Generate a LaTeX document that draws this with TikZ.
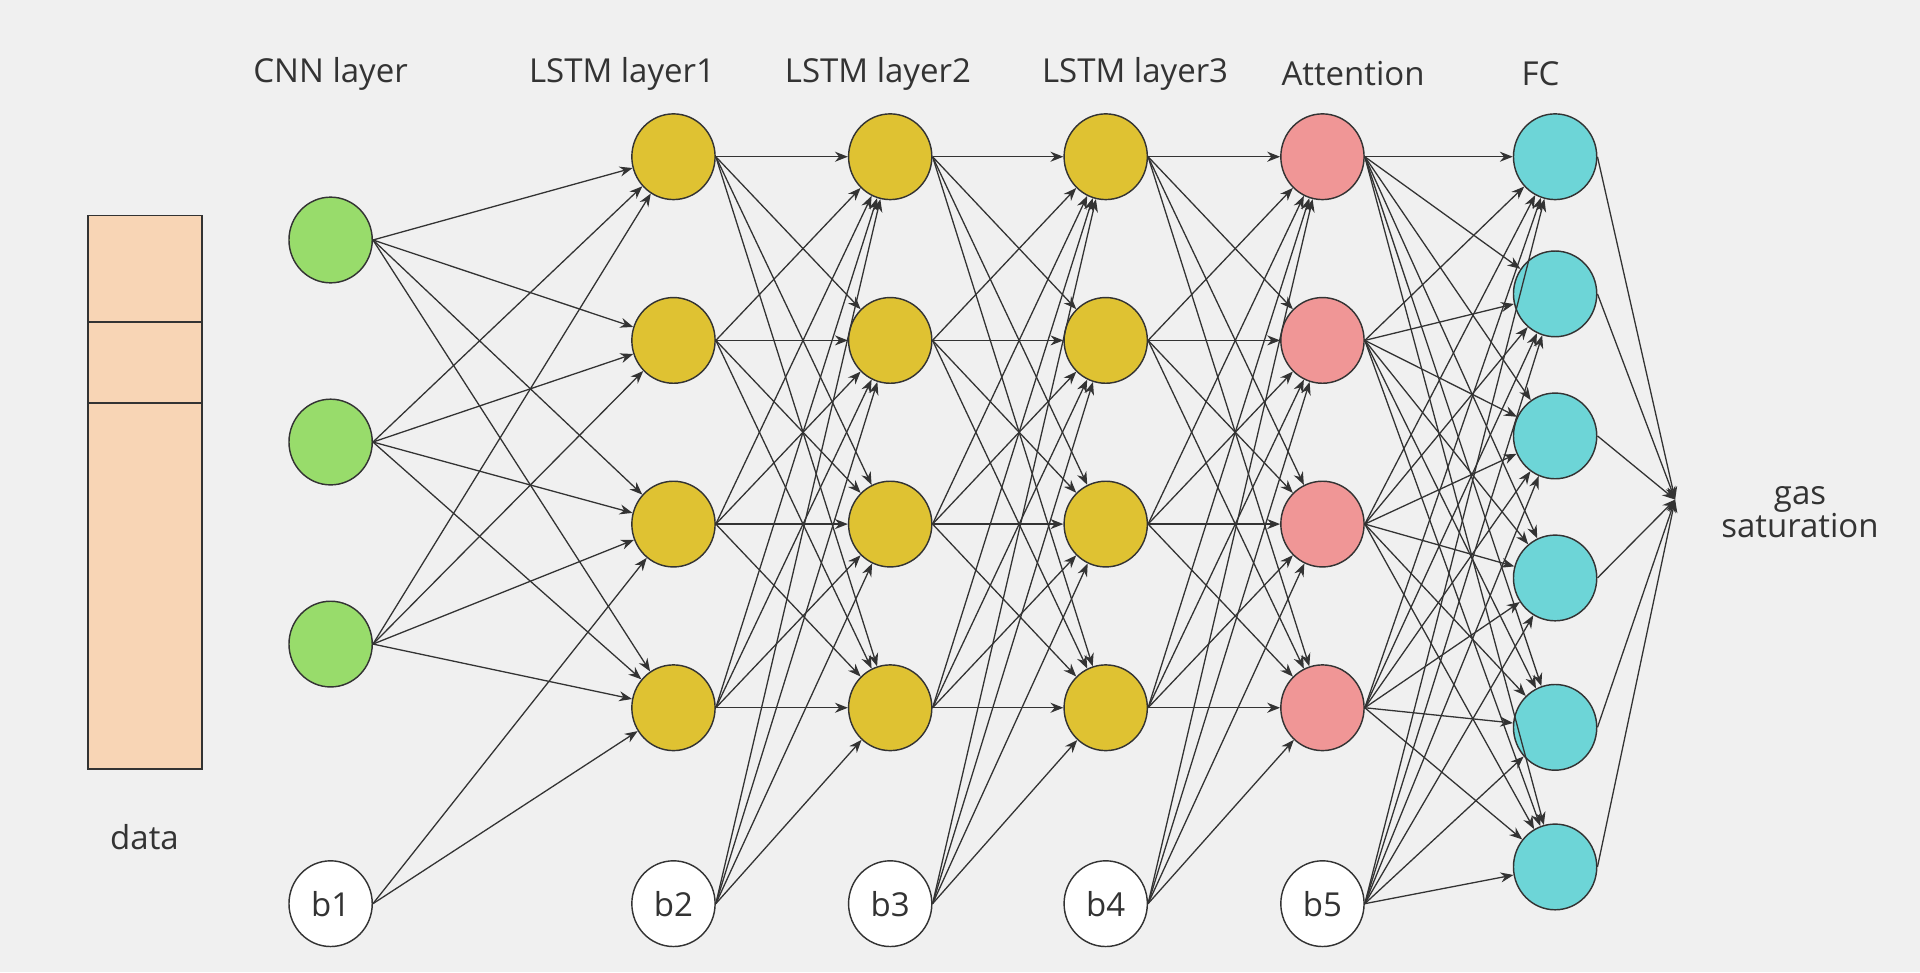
\documentclass[tikz,border=0pt]{standalone}
\usepackage{fontspec}
\setmainfont{Open Sans}
\usetikzlibrary{shapes.geometric,arrows.meta}
\definecolor{bg}{HTML}{F0F0F0}
\definecolor{cg}{HTML}{98DC6B}
\definecolor{cy}{HTML}{DFC232}
\definecolor{cp}{HTML}{F09696}
\definecolor{cc}{HTML}{6DD5D7}
\definecolor{cd}{HTML}{F8D5B5}
\definecolor{ln}{HTML}{333333}
\begin{document}
\begin{tikzpicture}[x=0.03cm,y=-0.03cm,
 neu/.style={ellipse,draw=ln,line width=1pt,minimum width=2.04cm,minimum height=2.1cm,inner sep=0pt},
 lab/.style={font=\fontsize{23}{27}\selectfont,text=ln},
 con/.style={draw=ln,line width=0.9pt,-{Stealth[length=9pt,width=7pt]}}]
\fill[bg] (0,0) rectangle (1568,794);
\useasboundingbox (0,0) rectangle (1568,794);
% data
\draw[fill=cd,draw=ln,line width=1pt] (72,176) rectangle (165,628);
\draw[ln,line width=1.6pt] (72,263) -- (165,263);
\draw[ln,line width=1pt] (72,329) -- (165,329);
\node[lab] (dl) at (118,684) {data};
% titles
\node[lab] (t1) at (270,60) {CNN layer};
\node[lab] (t2) at (508,60) {LSTM layer1};
\node[lab] (t3) at (717,60) {LSTM layer2};
\node[lab] (t4) at (927,60) {LSTM layer3};
\node[lab] (t5) at (1105,60) {Attention};
\node[lab] (t6) at (1258,60) {FC};
\node[lab,align=center] (out) at (1470,418) {gas\\[-4pt]saturation};
\coordinate (o) at (1368,408);
% nodes
\foreach \i/\y in {1/196,2/361,3/526} \node[neu,fill=cg] (n\i) at (270,\y) {};
\foreach \x/\L in {550/a,727/b,903/c}
  \foreach \i/\y in {1/128,2/278,3/428,4/578} \node[neu,fill=cy] (\L\i) at (\x,\y) {};
\foreach \i/\y in {1/128,2/278,3/428,4/578} \node[neu,fill=cp] (d\i) at (1080,\y) {};
\foreach \i/\y in {1/128,2/240,3/356,4/472,5/594,6/708} \node[neu,fill=cc] (f\i) at (1270,\y) {};
\foreach \i/\x in {1/270,2/550,3/727,4/903,5/1080}
  \node[neu,fill=white,lab] (bb\i) at (\x,738) {b\i};
% connections
\foreach \s in {n1,n2,n3} \foreach \t in {a1,a2,a3,a4} \draw[con] (\s.east) -- (\t);
\foreach \t in {a3,a4} \draw[con] (bb1.east) -- (\t);
\foreach \s in {a1,a2,a3,a4,bb2} \foreach \t in {b1,b2,b3,b4} \draw[con] (\s.east) -- (\t);
\foreach \s in {b1,b2,b3,b4,bb3} \foreach \t in {c1,c2,c3,c4} \draw[con] (\s.east) -- (\t);
\foreach \s in {c1,c2,c3,c4,bb4} \foreach \t in {d1,d2,d3,d4} \draw[con] (\s.east) -- (\t);
\foreach \s in {d1,d2,d3,d4,bb5} \foreach \t in {f1,f2,f3,f4,f5,f6} \draw[con] (\s.east) -- (\t);
\foreach \s in {f1,f2,f3,f4,f5,f6} \draw[con] (\s.east) -- (o);
\end{tikzpicture}
\end{document}
